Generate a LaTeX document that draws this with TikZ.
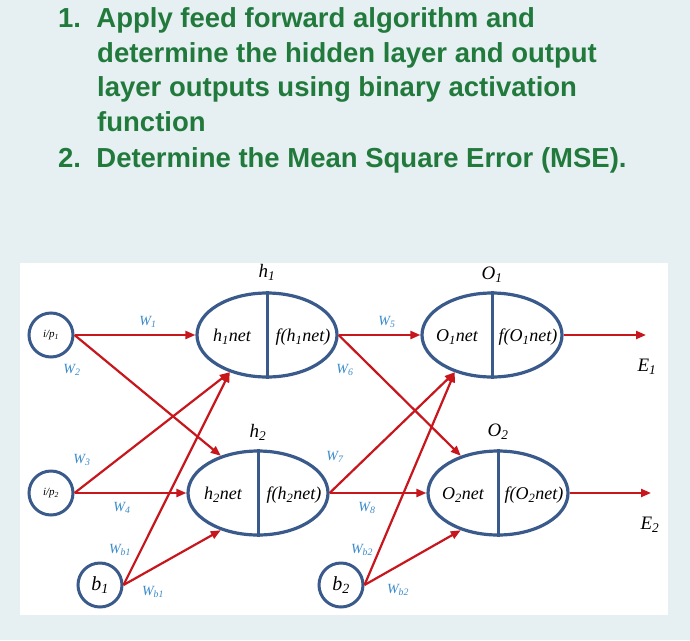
\documentclass[tikz,border=0pt]{standalone}
\usepackage{fontspec}
\setmainfont{Liberation Serif}
\newfontfamily\titlefont{Liberation Sans}
\usetikzlibrary{shapes.geometric,arrows.meta}
\definecolor{bgc}{HTML}{E6F0F3}
\definecolor{ttl}{HTML}{217A3C}
\definecolor{edg}{HTML}{C8161D}
\definecolor{nod}{HTML}{3A5A8C}
\definecolor{wlb}{HTML}{3A8CCB}
\tikzset{
  neuron/.style={ellipse,draw=nod,line width=3.2pt,minimum width=140pt,minimum height=84pt,inner sep=0pt},
  inp/.style={circle,draw=nod,line width=3pt,minimum size=44pt,inner sep=0pt},
  conn/.style={draw=edg,line width=2.2pt,-{Triangle[length=10pt,width=8pt]}},
  wl/.style={text=wlb,font=\itshape\fontsize{14}{16}\selectfont,inner sep=0pt},
  lbl/.style={font=\itshape\fontsize{19}{22}\selectfont,inner sep=0pt},
  cell/.style={font=\itshape\fontsize{18}{21}\selectfont,inner sep=0pt},
  ttlline/.style={anchor=west,text=ttl,font=\titlefont\bfseries\fontsize{27.5}{32}\selectfont,inner sep=0pt}
}
\begin{document}
\begin{tikzpicture}[x=1pt,y=-1pt]
\fill[bgc] (0,0) rectangle (690,640);
\useasboundingbox (0,0) rectangle (690,640);
\fill[white] (20,263) rectangle (668,615);
% title
\node[ttlline] (t1) at (58,20) {1.\ \ Apply feed forward algorithm and};
\node[ttlline] (t2) at (97,55) {determine the hidden layer and output};
\node[ttlline] (t3) at (97,89) {layer outputs using binary activation};
\node[ttlline] (t4) at (97,122) {function};
\node[ttlline] (t5) at (58,160) {2.\ \ Determine the Mean Square Error (MSE).};
% nodes
\node[inp] (i1) at (51,335) {\fontsize{11}{12}\selectfont\itshape i/p\textsubscript{1}};
\node[inp] (i2) at (51,493) {\fontsize{11}{12}\selectfont\itshape i/p\textsubscript{2}};
\node[inp] (b1) at (100,585) {\itshape\fontsize{20}{22}\selectfont b\textsubscript{1}};
\node[inp] (b2) at (341,585) {\itshape\fontsize{20}{22}\selectfont b\textsubscript{2}};
\node[neuron] (h1) at (267,335) {};
\node[neuron] (h2) at (258,493) {};
\node[neuron] (o1) at (492,335) {};
\node[neuron] (o2) at (498,493) {};
\foreach \n in {h1,h2,o1,o2}{\draw[nod,line width=3pt] (\n.north) -- (\n.south);}
\node[cell] at (232,337) {h\textsubscript{1}net};
\node[cell] at (303,337) {f(h\textsubscript{1}net)};
\node[cell] at (223,495) {h\textsubscript{2}net};
\node[cell] at (294,495) {f(h\textsubscript{2}net)};
\node[cell] at (457,337) {O\textsubscript{1}net};
\node[cell] at (528,337) {f(O\textsubscript{1}net)};
\node[cell] at (463,495) {O\textsubscript{2}net};
\node[cell] at (534,495) {f(O\textsubscript{2}net)};
\node[lbl] (lh1) at (267,272) {h\textsubscript{1}};
\node[lbl] (lh2) at (258,432) {h\textsubscript{2}};
\node[lbl] (lo1) at (492,275) {O\textsubscript{1}};
\node[lbl] (lo2) at (498,432) {O\textsubscript{2}};
\coordinate (e1) at (646,335);
\coordinate (e2) at (651,493);
\node[lbl] (le1) at (647,367) {E\textsubscript{1}};
\node[lbl] (le2) at (650,525) {E\textsubscript{2}};
% connectors
\draw[conn] (i1.east) -- (h1.west);
\draw[conn] (i1.east) -- (h2.135);
\draw[conn] (i2.east) -- (h1.-135);
\draw[conn] (i2.east) -- (h2.west);
\draw[conn] (b1.east) -- (h1.-135);
\draw[conn] (b1.east) -- (h2.-135);
\draw[conn] (h1.east) -- (o1.west);
\draw[conn] (h1.east) -- (o2.135);
\draw[conn] (h2.east) -- (o1.-135);
\draw[conn] (h2.east) -- (o2.west);
\draw[conn] (b2.east) -- (o1.-135);
\draw[conn] (b2.east) -- (o2.-135);
\draw[conn] (o1.east) -- (e1);
\draw[conn] (o2.east) -- (e2);
% weights
\node[wl] at (148,322) {W\textsubscript{1}};
\node[wl] at (72,370) {W\textsubscript{2}};
\node[wl] at (82,460) {W\textsubscript{3}};
\node[wl] at (122,508) {W\textsubscript{4}};
\node[wl] at (120,550) {W\textsubscript{b1}};
\node[wl] at (153,592) {W\textsubscript{b1}};
\node[wl] at (387,322) {W\textsubscript{5}};
\node[wl] at (345,370) {W\textsubscript{6}};
\node[wl] at (335,457) {W\textsubscript{7}};
\node[wl] at (367,508) {W\textsubscript{8}};
\node[wl] at (362,550) {W\textsubscript{b2}};
\node[wl] at (398,590) {W\textsubscript{b2}};
\end{tikzpicture}
\end{document}
